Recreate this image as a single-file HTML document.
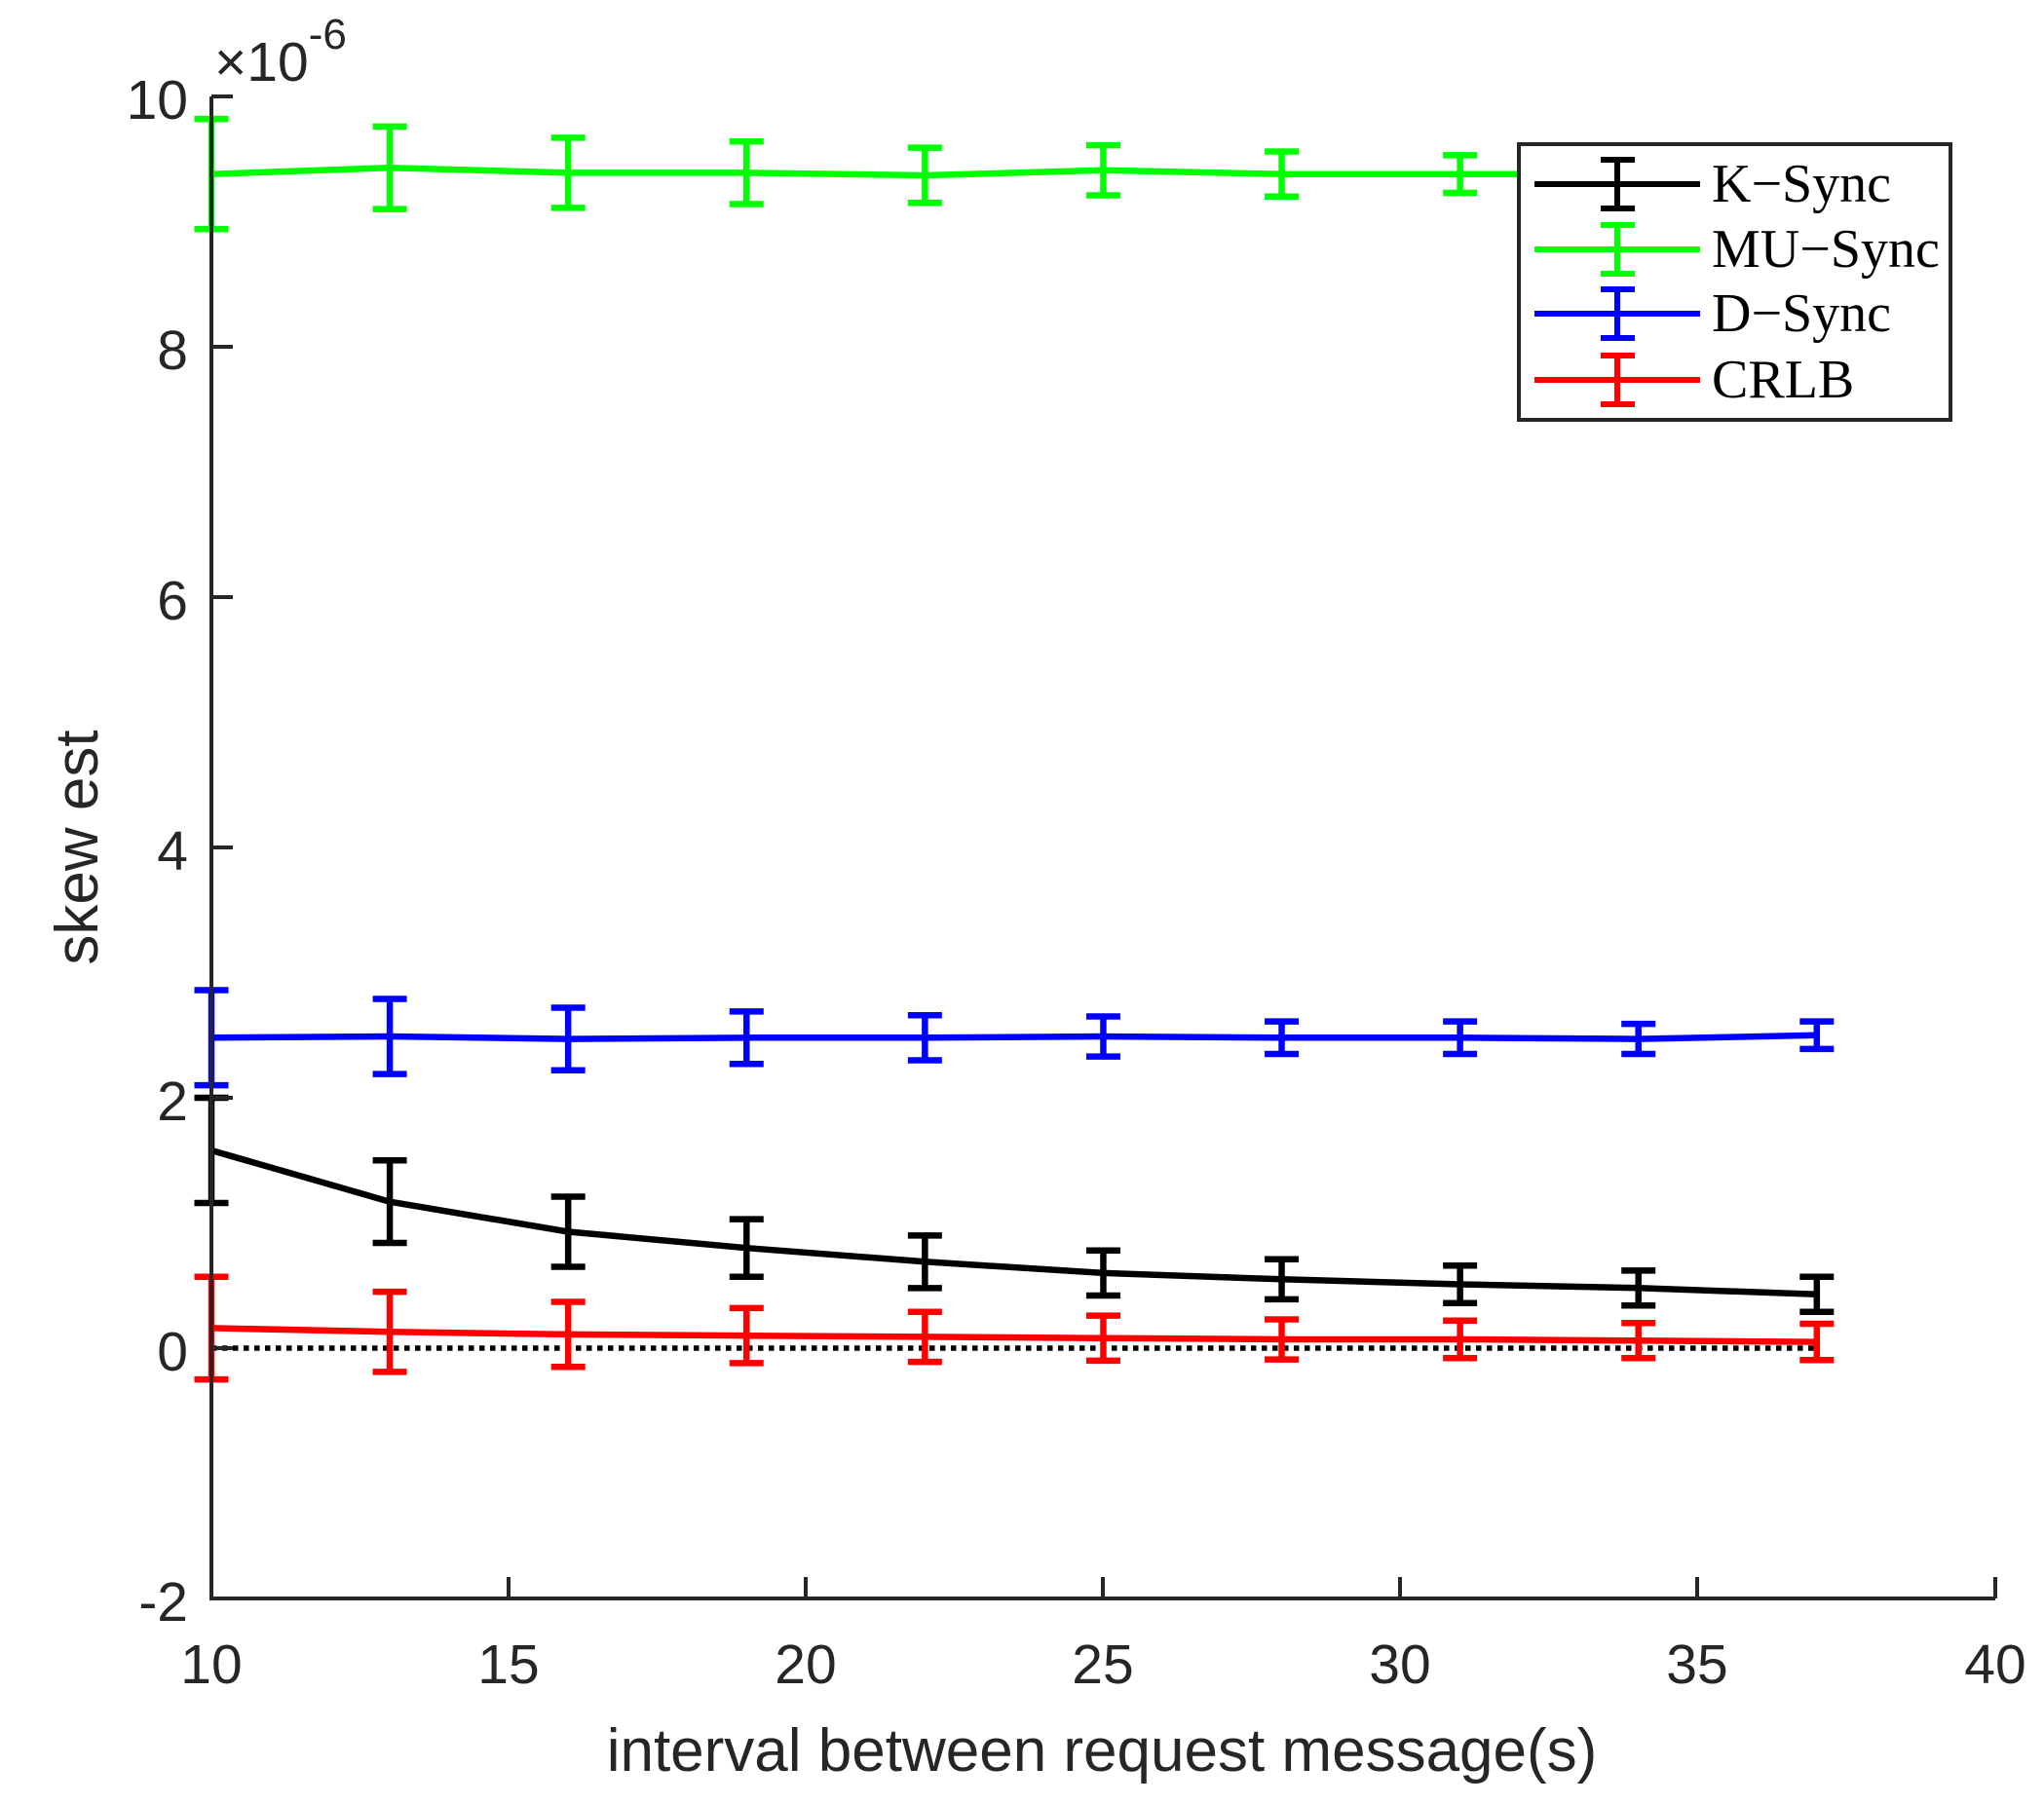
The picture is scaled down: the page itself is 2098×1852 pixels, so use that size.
<!DOCTYPE html>
<html><head><meta charset="utf-8"><style>
html,body{margin:0;padding:0;background:#fff;}
svg{display:block;}
.t{font-family:"Liberation Sans",sans-serif;font-size:57px;fill:#262626;}
.l{font-family:"Liberation Serif",serif;font-size:56px;fill:#000;}
</style></head><body>
<svg id="s" width="2098" height="1852" viewBox="0 0 2098 1852" xmlns="http://www.w3.org/2000/svg">
<rect width="2098" height="1852" fill="#fff"/>
<g id="series"></g>
<g stroke="#262626" stroke-width="4" fill="none">
<path d="M217,99 V1641 H2048"/>
<path d="M217,99 h22 M217,356 h22 M217,613 h22 M217,870 h22 M217,1127 h22 M217,1384 h22"/>
<path d="M522,1641 v-22 M827,1641 v-22 M1132,1641 v-22 M1437,1641 v-22 M1742,1641 v-22 M2048,1641 v-22"/>
</g>
<g class="t" text-anchor="end">
<text x="193" y="122">10</text>
<text x="193" y="379">8</text>
<text x="193" y="636">6</text>
<text x="193" y="893">4</text>
<text x="193" y="1150">2</text>
<text x="193" y="1407">0</text>
<text x="193" y="1664">-2</text>
</g>
<g class="t" text-anchor="middle">
<text x="217" y="1728">10</text>
<text x="522" y="1728">15</text>
<text x="827" y="1728">20</text>
<text x="1132" y="1728">25</text>
<text x="1437" y="1728">30</text>
<text x="1742" y="1728">35</text>
<text x="2048" y="1728">40</text>
<text x="1131" y="1818" font-size="62">interval between request message(s)</text>
<text transform="translate(100,870) rotate(-90)" font-size="62">skew est</text>
</g>
<text class="t" x="220" y="83">×10<tspan font-size="44" dy="-33">-6</tspan></text>
<g>
<rect x="1559" y="148" width="443" height="283" fill="#fff" stroke="#262626" stroke-width="4"/>
<g stroke-width="6" fill="none">
<path stroke="#000" d="M1575,189 H1745 M1660,164 V214 M1643,164 h35 M1643,214 h35"/>
<path stroke="#00ff00" d="M1575,256 H1745 M1660,231 V281 M1643,231 h35 M1643,281 h35"/>
<path stroke="#0000ff" d="M1575,322 H1745 M1660,297 V347 M1643,297 h35 M1643,347 h35"/>
<path stroke="#ff0000" d="M1575,390 H1745 M1660,365 V415 M1643,365 h35 M1643,415 h35"/>
</g>
<text class="l" x="1757" y="207">K−Sync</text>
<text class="l" x="1757" y="274">MU−Sync</text>
<text class="l" x="1757" y="340">D−Sync</text>
<text class="l" x="1757" y="408">CRLB</text>
</g>
</svg>
<script>
var X=function(v){return 217+(v-10)*61.03;},Y=function(v){return 1384-v*128.5;};
var xs=[10,13,16,19,22,25,28,31,34,37];
var S=[
 ["#00ff00",[9.38,9.43,9.39,9.39,9.37,9.41,9.38,9.38,9.38,9.38],[0.44,0.33,0.28,0.25,0.22,0.2,0.18,0.15,0.15,0.15]],
 ["#0000ff",[2.48,2.49,2.47,2.48,2.48,2.49,2.48,2.48,2.47,2.5],[0.38,0.3,0.25,0.21,0.18,0.16,0.13,0.13,0.12,0.11]],
 ["#000000",[1.58,1.17,0.93,0.8,0.69,0.6,0.55,0.51,0.48,0.43],[0.42,0.33,0.28,0.23,0.21,0.18,0.16,0.15,0.14,0.14]],
 ["#ff0000",[0.16,0.13,0.11,0.1,0.09,0.08,0.07,0.07,0.06,0.05],[0.41,0.32,0.26,0.22,0.2,0.18,0.16,0.15,0.14,0.145]]
];
var g=document.getElementById("series"),h="";
h+='<path d="M217,1384 H1866" stroke="#000" stroke-width="5.5" stroke-dasharray="5.5,5.5" fill="none"/>';
S.forEach(function(s){
 var d="";s[1].forEach(function(v,i){d+=(i?"L":"M")+X(xs[i]).toFixed(1)+","+Y(v).toFixed(1);});
 var e="";s[1].forEach(function(v,i){var x=X(xs[i]),t=Y(v+s[2][i]),b=Y(v-s[2][i]);
  e+="M"+x+","+t+"V"+b+"M"+(x-17.5)+","+t+"h35M"+(x-17.5)+","+b+"h35";});
 h+='<path d="'+d+'" stroke="'+s[0]+'" stroke-width="6.5" fill="none"/>';
 h+='<path d="'+e+'" stroke="'+s[0]+'" stroke-width="6.5" fill="none"/>';
});
g.innerHTML=h;
</script>
</body></html>
